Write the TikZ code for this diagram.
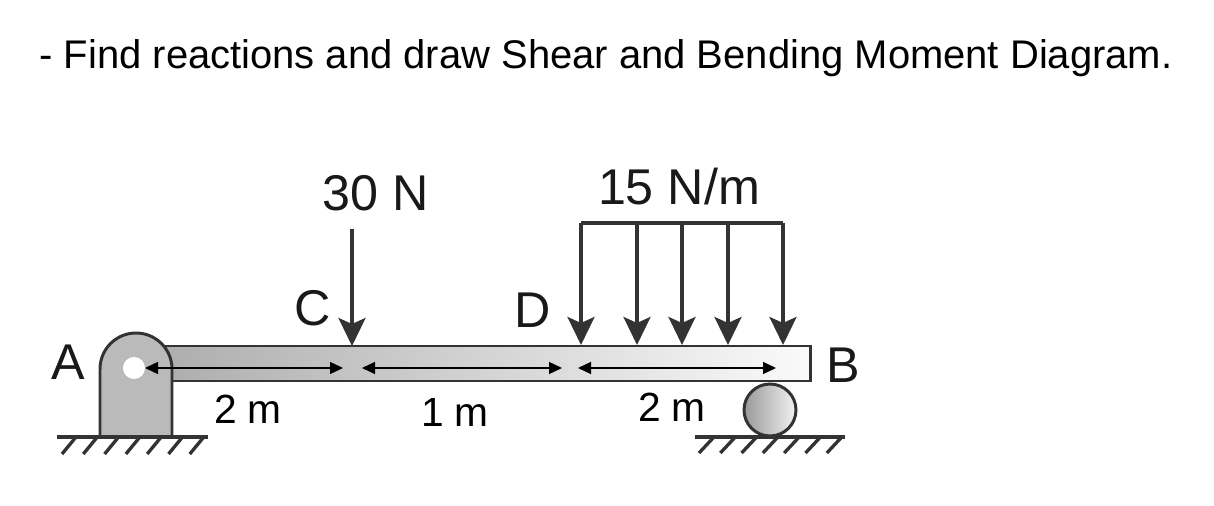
\documentclass[tikz,border=0pt]{standalone}
\usepackage{fontspec}
\setmainfont{Liberation Sans}
\usepackage{tikz}
\usetikzlibrary{calc,arrows.meta,positioning}
\definecolor{edge}{HTML}{333333}
\tikzset{
  member/.style={draw=edge,line width=1.7pt},
  load/.style={draw=edge,line width=2pt,-{Stealth[length=28*0.02cm,width=27*0.02cm,inset=6*0.02cm]}},
  dim/.style={line width=0.8pt,{Stealth[length=13*0.02cm,width=12*0.02cm,inset=0pt]}-{Stealth[length=13*0.02cm,width=12*0.02cm,inset=0pt]}},
  hatch/.style={draw=edge,line width=1.9pt},
  lbl/.style={font=\fontsize{28.6}{32}\selectfont,inner sep=0pt,text=black!90},
  spanlbl/.style={font=\fontsize{23.2}{28}\selectfont,inner sep=0pt}
}
\begin{document}
\begin{tikzpicture}[x=0.02cm,y=-0.02cm]
  \useasboundingbox (0,0) rectangle (1214,506);
  \node[font=\fontsize{22.75}{26}\selectfont,inner sep=0pt] (title) at (606,58) {- Find reactions and draw Shear and Bending Moment Diagram.};

  % beam
  \path[member,left color=black!32,right color=black!2] (160,346) rectangle (810,381);

  % pinned support at A
  \path[member,fill=black!27] (100,437) -- (100,369) arc[start angle=180,end angle=360,radius=36] -- (172,437) -- cycle;
  \fill[white] (134,368) circle (11);
  \draw[hatch] (57,437) -- (208,437);
  \foreach \i in {0,...,6}
    \draw[hatch] ({62+21.3*\i},454) -- ({76+21.3*\i},437);

  % roller at B
  \path[member,left color=black!40,right color=black!5] (770,410) circle (26);
  \draw[hatch] (695,437) -- (845,437);
  \foreach \i in {0,...,6}
    \draw[hatch] ({699+21.3*\i},453) -- ({714+21.3*\i},437);

  % point load
  \coordinate (ptop) at (352,229);
  \coordinate (C) at (352,346);
  \draw[load] (ptop) -- (C);

  % distributed load
  \draw[draw=edge,line width=2pt] (581,223) -- (783,223);
  \foreach \x in {581,637,682,728,783}
    \draw[load] (\x,223) -- (\x,345);

  % dimensions
  \coordinate (d0) at (145,368);
  \coordinate (d1) at (343,368);
  \coordinate (d2) at (362,368);
  \coordinate (d3) at (562,368);
  \coordinate (d4) at (578,368);
  \coordinate (d5) at (776,368);
  \draw[dim] (d0) -- (d1);
  \draw[dim] (d2) -- (d3);
  \draw[dim] (d4) -- (d5);

  \node[lbl] (lA) at (68,362) {A};
  \node[lbl] (lC) at (313,308) {C};
  \node[lbl] (lD) at (533,310) {D};
  \node[lbl] (lB) at (843,365) {B};
  \node[lbl] (force) at (376,193) {30 N};
  \node[lbl] (udl) at (679,187) {15 N/m};
  \node[spanlbl] (spanA) at (248,409) {2 m};
  \node[spanlbl] (spanB) at (455,412) {1 m};
  \node[spanlbl] (spanC) at (672,407) {2 m};
\end{tikzpicture}
\end{document}
